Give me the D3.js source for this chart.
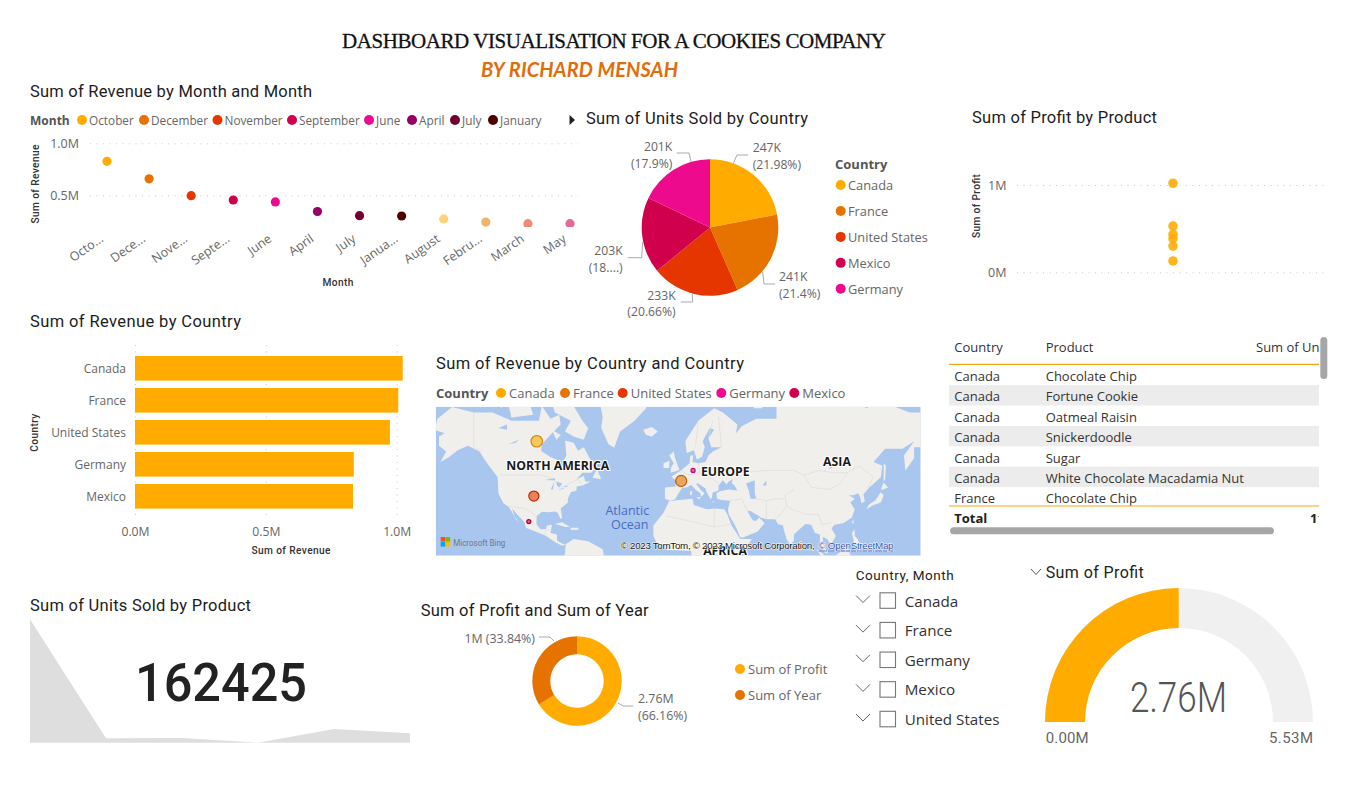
<!DOCTYPE html>
<html><head><meta charset="utf-8">
<script src="https://cdn.jsdelivr.net/npm/d3@7"></script>
<style>html,body{margin:0;background:#fff}svg{display:block}</style></head>
<body><svg id="c" width="1358" height="785" viewBox="0 0 1358 785"></svg>
<script>
// ---------- data ----------
const months=["October","December","November","September","June","April","July","January","August","February","March","May"];
const monthTicks=["Octo...","Dece...","Nove...","Septe...","June","April","July","Janua...","August","Febru...","March","May"];
const monthRevenue=[827000,658000,496000,455000,436000,344000,304000,301000,273000,243000,227000,227000];
const unitCountries=["Canada","France","United States","Mexico","Germany"];
const unitsSold=[247000,241000,233000,203000,201000];
const unitLabels=[["247K","(21.98%)"],["241K","(21.4%)"],["233K","(20.66%)"],["203K","(18....)"],["201K","(17.9%)"]];
const productProfit=[1020000,530000,435000,385000,300000,130000];
const revCountries=["Canada","France","United States","Germany","Mexico"];
const countryRevenue=[1023000,1006000,974000,836000,833000];
const mapCountries=["Canada","France","United States","Germany","Mexico"];
const mapLonLat=[[-97.5,62],[2.2,46.2],[-99.5,38.5],[10.4,51],[-103,23.5]];
const mapBubble=[32,30,25,4,4];
const tableCountry=["Canada","Canada","Canada","Canada","Canada","Canada","France"];
const tableProduct=["Chocolate Chip","Fortune Cookie","Oatmeal Raisin","Snickerdoodle","Sugar","White Chocolate Macadamia Nut","Chocolate Chip"];
const productUnits=[335400,154800,155200,148100,168900,162425];
const donutNames=["Sum of Profit","Sum of Year"];
const donutValues=[2760000,1412000];
const slicerItems=["Canada","France","Germany","Mexico","United States"];
const gaugeValue=2760000, gaugeMax=5530000;

// ---------- colours ----------
const palette=["#ffab00","#e67300","#e63600","#d1004d","#ee0a8c","#960066","#730033","#4d0000","#ffd27f","#f0b469","#f08b73","#e4689a"];
const countryColor={"Canada":"#ffab00","France":"#e67300","United States":"#e63600","Mexico":"#d1004d","Germany":"#ee0a8c"};
const BODY="'Open Sans',sans-serif", HEAD="Roboto,sans-serif";

const svg=d3.select("#c");
const defs=svg.append("defs");
function clip(id,x,y,w,h){defs.append("clipPath").attr("id",id).append("rect").attr("x",x).attr("y",y).attr("width",w).attr("height",h);}
function txt(p,o){
  const t=p.append("text").attr("x",o.x).attr("y",o.y).text(o.t)
    .attr("dominant-baseline",o.base||"central").attr("text-anchor",o.a||"start")
    .attr("font-family",o.f||BODY).attr("font-size",o.s||13).attr("fill",o.c||"#666");
  if(o.w)t.attr("font-weight",o.w);
  if(o.style)t.attr("font-style",o.style);
  if(o.len)t.attr("textLength",o.len).attr("lengthAdjust",o.adj||"spacing");
  if(o.rot)t.attr("transform",`rotate(${o.rot} ${o.x} ${o.y})`);
  return t;
}
const title=(t,x,y,len)=>txt(svg,{t,x,y,len,f:HEAD,s:16.5,c:"#1c1c1c"});
const axisTitle=(t,x,y,rot,len)=>txt(svg,{t,x,y,rot,len,a:"middle",f:HEAD,s:10.2,w:500,c:"#333"});
function styleAxis(g,size,color){
  g.select(".domain").remove();
  g.selectAll("text").attr("font-family",BODY).attr("font-size",size).attr("fill",color||"#666");
  g.selectAll("line").attr("stroke","#c8c8c8").attr("stroke-dasharray","1 5.5");
}
function legendItem(x,y,label,color,tx,size){
  svg.append("circle").attr("cx",x).attr("cy",y).attr("r",5).attr("fill",color);
  txt(svg,{t:label,x:tx,y,s:size,c:"#666"});
}

// ---------- headings ----------
txt(svg,{t:"DASHBOARD VISUALISATION FOR A COOKIES COMPANY",x:342,y:41,len:544,f:"'Liberation Serif',serif",s:21,c:"#111"}).attr("stroke","#111").attr("stroke-width",.3);
txt(svg,{t:"BY RICHARD MENSAH",x:481,y:69,len:197,f:"Lato,sans-serif",s:20,w:700,style:"italic",c:"#e36c0a"});

// ---------- revenue by month ----------
title("Sum of Revenue by Month and Month",30,91,282);
txt(svg,{t:"Month",x:30,y:120,s:12,w:700,c:"#555"});
const lgX=[82,144,217.5,292,369,412,455,493];
lgX.forEach((x,i)=>legendItem(x,120,months[i],palette[i],x+7,11.8));
const mx=d3.scalePoint().domain(months).range([107,570]);
const my=d3.scaleLinear().domain([0,1000000]).range([247.3,143.3]);
const gy=svg.append("g").attr("transform","translate(90,0)")
  .call(d3.axisLeft(my).tickValues([500000,1000000]).tickSize(-488).tickPadding(11).tickFormat(d=>(d/1e6).toFixed(1)+"M"));
styleAxis(gy,12.5);
const gx=svg.append("g").attr("transform","translate(0,232)")
  .call(d3.axisBottom(mx).tickSize(0).tickFormat((d,i)=>monthTicks[i]));
styleAxis(gx,12.5);
gx.selectAll("text").attr("text-anchor","end").attr("dy",0).attr("y",0).attr("transform","translate(-6,5) rotate(-35)").attr("dominant-baseline","central");
clip("mc",90,130,490,97);
svg.append("g").attr("clip-path","url(#mc)").selectAll("circle").data(months).join("circle")
  .attr("cx",d=>mx(d)).attr("cy",(d,i)=>my(monthRevenue[i])).attr("r",4.6).attr("fill",(d,i)=>palette[i]);
axisTitle("Sum of Revenue",35,184,-90,79);
axisTitle("Month",338,282,0,31);

// ---------- units pie ----------
title("Sum of Units Sold by Country",586,118,222);
svg.append("path").attr("d",d3.line()([[569.5,115],[575,120],[569.5,125]])+"Z").attr("fill","#222");
const pc=[710,227.5], pr=68.3;
const pie=d3.pie().sort(null)(unitsSold);
const arc=d3.arc().innerRadius(0).outerRadius(pr);
const gp=svg.append("g").attr("transform",`translate(${pc})`);
gp.selectAll("path").data(pie).join("path").attr("d",arc).attr("fill",(d,i)=>countryColor[unitCountries[i]]);
// leader elbows and label anchors, relative to the pie centre
const pieLeaderAngle=[20,130,195,258,344].map(d=>d*Math.PI/180);
const pieElbow=[[27,-72.5],[54,56.5],[-17.3,74.5],[-68.3,30.2],[-21,-74.5]];
const pieEnd=[[38,-72.5],[65,56.5],[-29.3,74.5],[-82.3,30.2],[-33.3,-74.5]];
const pieText=[[42.7,-80.5,-63.5,"start"],[69,48.5,65.5,"start"],[-34.3,67.5,84.2,"end"],[-87.3,22.5,39.8,"end"],[-37.7,-81.5,-64.5,"end"]];
pie.forEach((d,i)=>{
  const a=pieLeaderAngle[i], s=[Math.sin(a)*(pr+.5),-Math.cos(a)*(pr+.5)];
  gp.append("path").attr("d",d3.line()([s,pieElbow[i],pieEnd[i]])).attr("fill","none").attr("stroke","#aaa");
  const [x,y1,y2,an]=pieText[i];
  txt(gp,{t:unitLabels[i][0],x,y:y1,a:an,s:12.2});
  txt(gp,{t:unitLabels[i][1],x,y:y2,a:an,s:12.2});
});
txt(svg,{t:"Country",x:835,y:164,s:13,w:700,c:"#555"});
unitCountries.forEach((c,i)=>legendItem(840.7,185+i*25.95,c,countryColor[c],848,12.8));

// ---------- profit by product ----------
title("Sum of Profit by Product",972,117.5,185);
const py=d3.scaleLinear().domain([0,1000000]).range([272.3,185]);
const gpy=svg.append("g").attr("transform","translate(1017,0)")
  .call(d3.axisLeft(py).tickValues([0,1000000]).tickSize(-310).tickPadding(10.5).tickFormat(d=>(d/1e6)+"M"));
styleAxis(gpy,12.5);
svg.append("g").selectAll("circle").data(productProfit).join("circle")
  .attr("cx",1173).attr("cy",d=>py(d)).attr("r",4.8).attr("fill","#ffab00").attr("fill-opacity",.88);
axisTitle("Sum of Profit",976.7,206,-90,64);

// ---------- revenue by country ----------
title("Sum of Revenue by Country",30,321.7,211);
const bx=d3.scaleLinear().domain([0,1000000]).range([135,396.7]);
const by=d3.scaleBand().domain(revCountries).range([352.3,512.3]).paddingInner(.23).paddingOuter(.115);
const gbx=svg.append("g").attr("transform","translate(0,515)")
  .call(d3.axisBottom(bx).tickValues([0,500000,1000000]).tickSize(-173).tickPadding(12).tickFormat(d=>(d/1e6).toFixed(1)+"M"));
styleAxis(gbx,12.2);
const gby=svg.append("g").attr("transform","translate(135,0)").call(d3.axisLeft(by).tickSize(0).tickPadding(9));
styleAxis(gby,12);
gby.selectAll("text").attr("dy",".42em");
svg.append("g").selectAll("rect").data(revCountries).join("rect")
  .attr("x",bx(0)).attr("y",d=>by(d)).attr("height",by.bandwidth())
  .attr("width",(d,i)=>bx(countryRevenue[i])-bx(0)).attr("fill","#ffab00");
axisTitle("Sum of Revenue",291,550,0,79);
axisTitle("Country",35,432.7,-90,38);

// ---------- map ----------
title("Sum of Revenue by Country and Country",436,363.5,308);
txt(svg,{t:"Country",x:436,y:393,s:13,w:700,c:"#555"});
[501,565,622.7,721.3,794.3].forEach((x,i)=>legendItem(x,393,mapCountries[i],countryColor[mapCountries[i]],x+8,13));
const projection=d3.geoMercator().scale(83).translate([678,556.6]);
const landPolys=[
 [[-168,65.5],[-166,68.5],[-156,71.3],[-141,70],[-128,70],[-115,68],[-108,68],[-96,68],[-94,71.5],[-88,68.5],[-82,69.5],[-81,67],[-87,64.5],[-94,61],[-94.5,58.7],[-88,56.5],[-82,55],[-80,51.5],[-78.5,52.5],[-79,55],[-77,57],[-78,62.3],[-72,61.5],[-69,58.8],[-65,60],[-61,56],[-56,52.5],[-60,50],[-66,50],[-70,47],[-65,48.5],[-64,46],[-60,46],[-66,44],[-70,43.5],[-70,41.5],[-74,40.5],[-76,37],[-76,35],[-81,31.5],[-80,26],[-81,25],[-83,29],[-85,29.7],[-90,29.2],[-94,29.5],[-97.5,27],[-97.7,22],[-95,18.5],[-91,18.7],[-90.5,21],[-87,21.5],[-88,16],[-83.5,15],[-83.5,11],[-80,9],[-77.5,8.5],[-80,7.5],[-85,10],[-92,14.5],[-96,16],[-105,19.5],[-106,23],[-112,29],[-114.5,31.5],[-113,27],[-110,23],[-112,25],[-115,30],[-117,32.5],[-120.5,34.5],[-124,40],[-124.5,48],[-128,51],[-133,55],[-137,58.5],[-145,60.5],[-152,59],[-158,56.5],[-164,54.5],[-160,58.5],[-165,60.5],[-165,63.5],[-161,64.5]],
 [[-80,73.5],[-72,71.5],[-66,68],[-62,66],[-65,62.5],[-72,63.5],[-78,65],[-74,68],[-85,70],[-88,73]],
 [[-118,73],[-104,73.5],[-100,69.5],[-115,68.8]],[[-125,74],[-116,73],[-122,71]],
 [[-102,74],[-96,74],[-96,71.5],[-102,71.5]],[[-95,75],[-80,75],[-80,74],[-95,74]],
 [[-87,65.5],[-81,64],[-84,62.5]],
 [[-59,47.7],[-56,51.5],[-53,47]],
 [[-56,75],[-52,69],[-53,66],[-48,61],[-44,59.8],[-40,65],[-30,68],[-22,71],[-20,75]],
 [[-24,65.5],[-18,66.3],[-14,65],[-18,63.5],[-22,64]],
 [[25,71],[31,70],[41,67],[40,64.5],[44,66.5],[54,68.5],[68,68.5],[68,72],[75,72.5],[86,74],[105,77],[113,74],[130,71],[140,72.5],[160,70],[170,70],[180,69],[180,65],[178,62.5],[170,60],[163,60],[163,56],[157,51],[156,57],[163,62],[155,59.5],[143,59.5],[135,54.5],[141,53],[140,48],[132,43],[128,39.5],[129,35.5],[126.5,34.5],[126,37.5],[124.5,40],[121,39],[118,39],[122,37],[119,35],[122,31],[120,26],[114,22.5],[108,21.5],[106,19],[109,14],[107,10.5],[105,9],[103,12],[100,13.5],[100,9],[103.5,2],[101,3],[98,8],[98,15],[94.5,16],[92,21.5],[88,22],[85,19.5],[80,15],[80,11],[77.5,8],[75,12],[73,18],[72.5,21],[69,22],[67,25],[61,25],[57,26],[56,27],[50,30],[48,30],[50,26.5],[52,24],[54,24],[56,26],[59.8,22.5],[55,17],[45,13],[43,13],[40,20],[35,28],[34.5,31],[36,36],[30,36.3],[27,37],[26.5,40],[29,41],[35,42],[41,41.5],[39,44],[37,45.3],[38,47],[35,46],[33.5,44.5],[31,46.5],[28,44],[28,41.5],[26,40.8],[24,40.5],[23.5,38],[22.5,36.7],[19.5,41],[19,42.5],[14,45],[12.3,45],[16,41.5],[18.3,40],[16,38],[15.5,40],[12,42],[9,44.3],[6,43],[3,43],[0,39.5],[-2,36.8],[-5.5,36],[-9,37],[-9,43],[-2,43.5],[-1,46],[-4.5,48.3],[2,51],[8,54],[8.5,57],[10.5,57],[10,54.5],[14,54],[19,54.5],[21,57],[24,58.5],[30,60],[23,60],[21,63],[25,65.5],[22,66],[17,62],[18.5,60],[16.5,56.5],[13,55.5],[11,59],[6,58],[5,62],[14,68]],
 [[-6,35.8],[10,37],[11,33.5],[20,31],[25,31.5],[32,31],[34,28],[37,21],[43,12],[51,12],[40,-5],[10,-5],[9,4],[-7,4.5],[-15,10],[-17,14],[-17,21],[-10,29]],
 [[-77.5,8.5],[-72,12],[-62,10.5],[-52,5],[-50,-5],[-81,-5],[-78,2]],
 [[-85,22],[-80,23],[-74.5,20],[-77.5,20]],[[-74,19.5],[-69,19.5],[-68.5,18.3],[-74,18]],
 [[-5,50],[1,51.2],[-2,56],[-3,58.5],[-6,57],[-3,54],[-5,52]],[[-10,52],[-6,52],[-6,55],[-10,54]],
 [[52,71],[56,73],[68,77],[58,71]],
 [[130,31],[132,34],[136,36],[140,40.5],[142,39],[140,35],[135,33.5]],[[140,42],[142,45.5],[145,43],[141.5,42]],
 [[142,46],[142,54],[143.5,53],[143,47]],[[120,23],[121.5,25],[121,22]],
 [[120,16],[122,18.5],[122,14],[124,12],[126,7],[122,7],[121,12]],
 [[109,1],[117,7],[119,1],[116,-3],[110,-3]],[[95,5.5],[100,2],[106,-5],[102,-4]],[[80,9.5],[82,7],[80.5,6]],
 [[12.5,38],[15.5,38],[15,36.7]],[[8.3,41],[9.7,41],[9.5,39],[8.5,39]],[[23.5,35.5],[26,35.3],[24,35]]
];
const waterPolys=[
 [[-92,46.7],[-85,47.5],[-84.7,46.5],[-88,46.5]],[[-87.8,42],[-85.5,45.8],[-86.3,42]],[[-84,46],[-80,45],[-82,43],[-83.5,44]],
 [[-83,41.7],[-79,42.8],[-79,42.4]],[[-79.5,43.3],[-76.2,44],[-76.5,43.3]],[[-99,53.5],[-97,53.5],[-96.5,50.5],[-97,50.5]],
 [[-124,66],[-118,67],[-118,65.5]],[[-117,61],[-110,62.5],[-112,61.5]],
 [[47,45],[53,46.5],[53,40],[54,37],[50,37],[49,41]],[[58.5,44],[61,46.5],[61,44]],[[104,51.5],[109.5,55.5],[109,54],[106,52]]
];
const borderLines=[
 [[-123,49],[-95,49],[-89,48],[-83,45],[-79,43],[-75,45],[-69,47],[-67,45]],[[-141,70],[-141,60],[-135,58.5]],
 [[-117,32.5],[-106,31.7],[-101,29.5],[-97.5,26]],[[-92,15],[-91,18],[-88,18]],
 [[28,69],[30,60]],[[24,68],[21,63]],[[14,68],[12,60]],[[28,45],[22,48],[14,50],[7,49],[2,51]],[[-2,43.5],[3,43]],[[14,54],[15,50]],
 [[28,52],[40,50],[47,50],[60,51],[80,51],[87,49],[98,51],[106,50],[117,50],[125,53],[135,48],[131,43]],
 [[80,42],[74,39],[75,33],[79,31],[88,28],[97,28],[99,22],[102,22],[106,23]],[[87,49],[92,43],[105,42],[112,45],[117,50]],
 [[61,36],[67,37],[74,37]],[[61,25],[61,36],[54,37]],[[44,37],[48,30]],[[36,36],[44,37]],[[67,25],[71,28],[75,33]],
 [[-8,27],[12,23],[25,20],[37,22]],[[25,31],[25,20]]
];
clip("mp",435.7,406.7,485,149);
const gm=svg.append("g").attr("clip-path","url(#mp)");
gm.append("rect").attr("x",435.7).attr("y",406.7).attr("width",485).attr("height",149).attr("fill","#a9c6ee");
const ln=d3.line().curve(d3.curveLinearClosed), ol=d3.line();
gm.selectAll(".land").data(landPolys).join("path").attr("class","land").attr("d",d=>ln(d.map(projection))).attr("fill","#f1efeb");
gm.selectAll(".bd").data(borderLines).join("path").attr("class","bd").attr("d",d=>ol(d.map(projection))).attr("fill","none").attr("stroke","#dcdcdc").attr("stroke-width",.7);
gm.selectAll(".wt").data(waterPolys).join("path").attr("class","wt").attr("d",d=>ln(d.map(projection))).attr("fill","#a9c6ee");
const mapLabel=(t,x,y)=>txt(gm,{t,x,y,a:"middle",f:"'Open Sans',sans-serif",s:12.3,w:700,c:"#1a1a1a"}).attr("stroke","#fff").attr("stroke-width",2).attr("paint-order","stroke");
mapLabel("AFRICA",725,550);
mapLabel("NORTH AMERICA",557.7,465.7);mapLabel("EUROPE",725.3,471.7);mapLabel("ASIA",837,461.7);
txt(gm,{t:"Atlantic",x:627.3,y:510,a:"middle",s:12.5,c:"#4a6bc4"});
txt(gm,{t:"Ocean",x:629.7,y:524.3,a:"middle",s:12.5,c:"#4a6bc4"});
const rS=d3.scaleSqrt().domain([0,32]).range([0,5.7]);
gm.selectAll(".bb").data(mapLonLat).join("circle").attr("class","bb")
  .attr("cx",d=>projection(d)[0]).attr("cy",d=>projection(d)[1]).attr("r",(d,i)=>rS(mapBubble[i]))
  .attr("fill",(d,i)=>countryColor[mapCountries[i]]).attr("fill-opacity",.6)
  .attr("stroke",(d,i)=>d3.color(countryColor[mapCountries[i]]).darker(.6)).attr("stroke-width",1.2);
[["#f25022",440.7,537],["#7fba00",445.6,537],["#00a4ef",440.7,542],["#ffb900",445.6,542]].forEach(([c,x,y])=>
  gm.append("rect").attr("x",x).attr("y",y).attr("width",4.6).attr("height",4.6).attr("fill",c));
txt(gm,{t:"Microsoft Bing",x:453.3,y:542,f:HEAD,s:9.5,len:52,adj:"spacingAndGlyphs",c:"#6f7a80"});
const halo=s=>s.attr("stroke","#fff").attr("stroke-width",1).attr("paint-order","stroke");
halo(txt(gm,{t:"© 2023 TomTom, © 2023 Microsoft Corporation,",x:620.7,y:545,len:194,f:"'Liberation Sans',sans-serif",s:9.8,c:"#111"}));
halo(txt(gm,{t:"© OpenStreetMap",x:818.5,y:545,len:75,f:"'Liberation Sans',sans-serif",s:9.8,c:"#2f4ea8"})).attr("text-decoration","underline");

// ---------- table ----------
clip("tb",949,337,370,190);
const gt=svg.append("g").attr("clip-path","url(#tb)");
txt(gt,{t:"Country",x:954.3,y:347,s:13,c:"#333"});
txt(gt,{t:"Product",x:1045.7,y:347,s:13,c:"#333"});
txt(gt,{t:"Sum of Units Sold",x:1256,y:347,s:13,c:"#333"});
const rowY=d3.scaleBand().domain(d3.range(tableCountry.length)).range([364.7,507.5]);
gt.selectAll(".rw").data(d3.range(tableCountry.length).filter(i=>i%2==1)).join("rect").attr("class","rw")
  .attr("x",949).attr("width",370).attr("y",d=>rowY(d)).attr("height",rowY.bandwidth()).attr("fill","#ececec");
tableCountry.forEach((c,i)=>{
  const y=rowY(i)+rowY.bandwidth()/2+1;
  txt(gt,{t:c,x:954.3,y,s:13,c:"#333"});
  txt(gt,{t:tableProduct[i],x:1045.7,y,s:13,c:"#333"});
});
gt.append("line").attr("x1",949).attr("x2",1319).attr("y1",364.3).attr("y2",364.3).attr("stroke","#f0a818").attr("stroke-width",1.2);
gt.append("line").attr("x1",949).attr("x2",1319).attr("y1",506).attr("y2",506).attr("stroke","#f0a818").attr("stroke-width",1.2);
txt(gt,{t:"Total",x:954.3,y:517.7,s:13,w:700,c:"#222"});
txt(gt,{t:"1125",x:1310,y:517.7,s:13,w:700,c:"#222"});
svg.append("rect").attr("x",1320.3).attr("y",337).attr("width",7).attr("height",42).attr("rx",3.5).attr("fill","#a6a6a6");
svg.append("rect").attr("x",950).attr("y",527.3).attr("width",324).attr("height",7).attr("rx",3.5).attr("fill","#a6a6a6");

// ---------- KPI ----------
title("Sum of Units Sold by Product",30,605,221);
const kx=d3.scalePoint().domain(d3.range(productUnits.length)).range([30,410]);
const ky=d3.scaleLinear().domain([d3.min(productUnits),d3.max(productUnits)]).range([742.7,619.3]);
svg.append("path").attr("fill","#dedede").attr("d",d3.area().x((d,i)=>kx(i)).y0(742.7).y1(d=>ky(d))(productUnits));
txt(svg,{t:"162425",x:135,y:682,f:HEAD,s:54,w:500,len:172,adj:"spacingAndGlyphs",c:"#222"});

// ---------- donut ----------
title("Sum of Profit and Sum of Year",420.7,610,228);
const dp=d3.pie().sort(null)(donutValues);
const darc=d3.arc().innerRadius(26.7).outerRadius(44.7);
const gd=svg.append("g").attr("transform","translate(577,681)");
gd.selectAll("path").data(dp).join("path").attr("d",darc).attr("fill",(d,i)=>countryColor[unitCountries[i]]);
const donutLeader=[[[41,22],[46.3,25],[56.3,25]],[[-23,-40],[-27,-44],[-38,-44]]];
donutLeader.forEach(l=>gd.append("path").attr("d",d3.line()(l)).attr("fill","none").attr("stroke","#aaa"));
txt(svg,{t:"2.76M",x:638,y:698,s:12.4});
txt(svg,{t:"(66.16%)",x:638,y:715,s:12.4});
txt(svg,{t:"1M (33.84%)",x:535,y:638.7,a:"end",s:12.4});
donutNames.forEach((n,i)=>legendItem(740,669+i*26,n,countryColor[unitCountries[i]],748,13));

// ---------- slicer ----------
txt(svg,{t:"Country, Month",x:855.7,y:575,len:98,f:HEAD,s:13.5,c:"#222"});
const sy=d3.scalePoint().domain(slicerItems).range([600.5,719]);
const gs=svg.append("g");
slicerItems.forEach(s=>{
  const y=sy(s);
  gs.append("path").attr("d",d3.line()([[856,y-5],[863,y+2],[870,y-5]])).attr("fill","none").attr("stroke","#666");
  gs.append("rect").attr("x",880).attr("y",y-7.7).attr("width",15.5).attr("height",15.5).attr("fill","#fff").attr("stroke","#777").attr("stroke-width",1.1);
  txt(gs,{t:s,x:904.7,y,s:15.2,c:"#333"});
});

// ---------- gauge ----------
const ga=d3.scaleLinear().domain([0,gaugeMax]).range([-Math.PI/2,Math.PI/2]);
const garc=d3.arc().innerRadius(94).outerRadius(134);
const gg=svg.append("g").attr("transform","translate(1179,722)");
gg.append("path").attr("d",garc({startAngle:ga(0),endAngle:ga(gaugeMax)})).attr("fill","#f0f0f0");
gg.append("path").attr("d",garc({startAngle:ga(0),endAngle:ga(gaugeValue)})).attr("fill","#ffab00");
txt(svg,{t:"Sum of Profit",x:1045.7,y:572,len:98,f:HEAD,s:16,c:"#222"});
svg.append("path").attr("d",d3.line()([[1031,569],[1036,574.5],[1041,569]])).attr("fill","none").attr("stroke","#555");
txt(svg,{t:"2.76M",x:1130,y:697,len:97,adj:"spacingAndGlyphs",f:HEAD,s:43,w:300,c:"#555"});
txt(svg,{t:"0.00M",x:1045.7,y:738,len:43,f:HEAD,s:15,c:"#666"});
txt(svg,{t:"5.53M",x:1269,y:738,len:44,f:HEAD,s:15,c:"#666"});
</script></body></html>
